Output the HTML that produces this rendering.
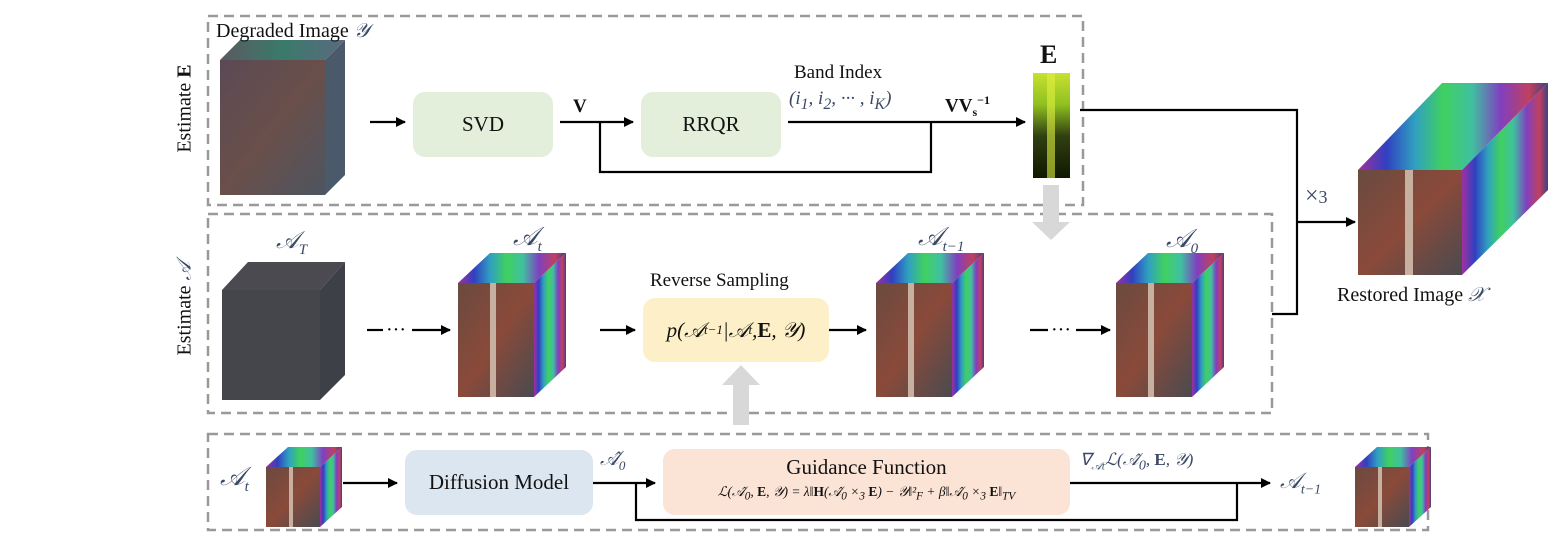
<!DOCTYPE html>
<html><head><meta charset="utf-8"><style>
body{margin:0;width:1555px;height:544px;background:#fff;position:relative;overflow:hidden;font-family:"Liberation Serif",serif;color:#111}
.a{position:absolute}
.box{position:absolute;border-radius:12px;display:flex;align-items:center;justify-content:center;font-size:21px}
.lbl{position:absolute;white-space:nowrap}
.m{font-style:italic;color:#3a4a66}
</style></head><body>
<svg class="a" style="left:0;top:0" width="1555" height="544">
<defs>
<marker id="ar" markerWidth="10" markerHeight="10" refX="9" refY="5" orient="auto" markerUnits="userSpaceOnUse"><path d="M0,0 L10,5 L0,10 z" fill="#000"/></marker>
<linearGradient id="noise" x1="0" y1="0" x2="1" y2="1"><stop offset="0" stop-color="#5a4a55"/><stop offset="0.5" stop-color="#6a4f4a"/><stop offset="1" stop-color="#4d5560"/></linearGradient>
<linearGradient id="noiseTop" x1="0" y1="0" x2="1" y2="0"><stop offset="0" stop-color="#5a5a60"/><stop offset="0.5" stop-color="#3a7a6a"/><stop offset="1" stop-color="#5a6a80"/></linearGradient>
<linearGradient id="city" x1="0" y1="0" x2="1" y2="1"><stop offset="0" stop-color="#6a4a40"/><stop offset="0.5" stop-color="#8a4a3a"/><stop offset="1" stop-color="#4a4a50"/></linearGradient>
<linearGradient id="stripe" x1="0" y1="0" x2="1" y2="0">
<stop offset="0" stop-color="#a030a0"/><stop offset="0.15" stop-color="#3040c0"/><stop offset="0.3" stop-color="#30a0c0"/><stop offset="0.45" stop-color="#40d060"/><stop offset="0.6" stop-color="#40c0a0"/><stop offset="0.75" stop-color="#8040c0"/><stop offset="0.9" stop-color="#c04060"/><stop offset="1" stop-color="#404080"/></linearGradient>
<linearGradient id="eg" x1="0" y1="0" x2="0" y2="1"><stop offset="0" stop-color="#c8e030"/><stop offset="0.3" stop-color="#90c020"/><stop offset="0.6" stop-color="#304010"/><stop offset="1" stop-color="#101800"/></linearGradient>
</defs>
<g fill="none" stroke="#999" stroke-width="2.5" stroke-dasharray="10,6">
<rect x="208" y="16" width="875" height="189"/>
<rect x="208" y="214" width="1064" height="199"/>
<rect x="208" y="434" width="1220" height="96"/>
</g>
<polygon points="220,60 240,40 345,40 325,60" fill="url(#noiseTop)"/>
<polygon points="325,60 345,40 345,175 325,195" fill="#4a5a6a"/>
<rect x="220" y="60" width="105" height="135" fill="url(#noise)"/>
<polygon points="222,290 248,262 345,262 320,290" fill="#4a4a50"/>
<polygon points="320,290 345,262 345,375 320,400" fill="#3e4048"/>
<rect x="222" y="290" width="98" height="110" fill="#45454c"/>
<g id="c1">
<polygon points="458,283 490,253 566,253 534,283" fill="url(#stripe)"/>
<polygon points="534,283 566,253 566,367 534,397" fill="url(#stripe)"/>
<rect x="458" y="283" width="76" height="114" fill="url(#city)"/>
<rect x="490" y="283" width="6" height="114" fill="#c8b0a0"/>
</g>
<use href="#c1" x="418" y="0"/>
<use href="#c1" x="658" y="0"/>
<g id="c2">
<polygon points="266,467 288,447 342,447 320,467" fill="url(#stripe)"/>
<polygon points="320,467 342,447 342,507 320,527" fill="url(#stripe)"/>
<rect x="266" y="467" width="54" height="60" fill="url(#city)"/>
<rect x="289" y="467" width="4" height="60" fill="#c8b0a0"/>
</g>
<use href="#c2" x="1089" y="0"/>
<polygon points="1358,170 1442,83 1548,83 1462,170" fill="url(#stripe)"/>
<polygon points="1462,170 1548,83 1548,190 1462,275" fill="url(#stripe)"/>
<rect x="1358" y="170" width="104" height="105" fill="url(#city)"/>
<rect x="1405" y="170" width="8" height="105" fill="#c8b0a0"/>
<rect x="1033" y="73" width="37" height="105" fill="url(#eg)"/>
<rect x="1047" y="73" width="8" height="105" fill="#e0f040" opacity="0.6"/>
<g stroke="#000" stroke-width="2.2" fill="none">
<line x1="370" y1="122" x2="405" y2="122" marker-end="url(#ar)"/>
<line x1="560" y1="122" x2="633" y2="122" marker-end="url(#ar)"/>
<polyline points="600,122 600,172 931,172 931,122"/>
<line x1="788" y1="122" x2="1025" y2="122" marker-end="url(#ar)"/>
<polyline points="1080,110 1297,110 1297,314 1272,314"/>
<line x1="1297" y1="222" x2="1355" y2="222" marker-end="url(#ar)"/>
<line x1="367" y1="330" x2="383" y2="330"/>
<line x1="412" y1="330" x2="450" y2="330" marker-end="url(#ar)"/>
<line x1="600" y1="330" x2="635" y2="330" marker-end="url(#ar)"/>
<line x1="829" y1="330" x2="866" y2="330" marker-end="url(#ar)"/>
<line x1="1030" y1="330" x2="1048" y2="330"/>
<line x1="1076" y1="330" x2="1110" y2="330" marker-end="url(#ar)"/>
<line x1="343" y1="483" x2="397" y2="483" marker-end="url(#ar)"/>
<line x1="593" y1="483" x2="655" y2="483" marker-end="url(#ar)"/>
<polyline points="636,483 636,520 1237,520 1237,483"/>
<line x1="1070" y1="483" x2="1270" y2="483" marker-end="url(#ar)"/>
</g>
<g fill="#000" font-size="20"><text x="386" y="336">···</text><text x="1051" y="336">···</text></g>
<polygon points="1043,185 1059,185 1059,222 1070,222 1051,240 1032,222 1043,222" fill="#d8d8d8"/>
<polygon points="733,425 749,425 749,385 760,385 741,365 722,385 733,385" fill="#d8d8d8"/>
</svg>
<div class="box" style="left:413px;top:92px;width:140px;height:65px;background:#e3eedb">SVD</div>
<div class="box" style="left:641px;top:92px;width:140px;height:65px;background:#e3eedb">RRQR</div>
<div class="box" style="left:643px;top:298px;width:186px;height:64px;background:#fdf0c8;font-style:italic">p(𝒜<sub style="font-size:13px">t−1</sub>|𝒜<sub style="font-size:13px">t</sub>, <b style="font-style:normal">E</b>, 𝒴)</div>
<div class="box" style="left:405px;top:450px;width:188px;height:65px;background:#dce6f0">Diffusion Model</div>
<div class="box" style="left:663px;top:449px;width:407px;height:66px;background:#fbe3d5;flex-direction:column;justify-content:flex-start;padding-top:6px;box-sizing:border-box"><div>Guidance Function</div><div style="font-size:13.5px;font-style:italic;margin-top:4px">ℒ(𝒜̂<sub>0</sub>, <b style="font-style:normal">E</b>, 𝒴) = λ‖<b style="font-style:normal">H</b>(𝒜̂<sub>0</sub> ×<sub>3</sub> <b style="font-style:normal">E</b>) − 𝒴‖²<sub>F</sub> + β‖𝒜̂<sub>0</sub> ×<sub>3</sub> <b style="font-style:normal">E</b>‖<sub>TV</sub></div></div>
<div class="lbl" style="left:216px;top:20px;font-size:20px">Degraded Image <span class="m">𝒴</span></div>
<div class="lbl" style="left:794px;top:62px;font-size:19px">Band Index</div>
<div class="lbl m" style="left:789px;top:88px;font-size:19px">(i<sub>1</sub>, i<sub>2</sub>, ··· , i<sub>K</sub>)</div>
<div class="lbl" style="left:573px;top:96px;font-size:19px;font-weight:bold">V</div>
<div class="lbl" style="left:945px;top:93px;font-size:19px;font-weight:bold">VV<sub style="font-size:12px">s</sub><sup style="font-size:12px">−1</sup></div>
<div class="lbl" style="left:1040px;top:40px;font-size:26px;font-weight:bold">E</div>
<div class="lbl" style="left:1305px;top:183px;font-size:24px;color:#3a4a66">×<span style="font-size:18px">3</span></div>
<div class="lbl" style="left:1337px;top:284px;font-size:20px">Restored Image <span class="m">𝒳</span></div>
<div class="lbl m" style="left:276px;top:228px;font-size:24px">𝒜<sub style="font-size:15px">T</sub></div>
<div class="lbl m" style="left:513px;top:222px;font-size:26px">𝒜<sub style="font-size:15px">t</sub></div>
<div class="lbl m" style="left:918px;top:222px;font-size:26px">𝒜<sub style="font-size:15px">t−1</sub></div>
<div class="lbl m" style="left:1166px;top:224px;font-size:26px">𝒜<sub style="font-size:15px">0</sub></div>
<div class="lbl" style="left:650px;top:270px;font-size:19px">Reverse Sampling</div>
<div class="lbl m" style="left:220px;top:462px;font-size:26px">𝒜<sub style="font-size:15px">t</sub></div>
<div class="lbl m" style="left:600px;top:448px;font-size:20px">𝒜̂<sub style="font-size:13px">0</sub></div>
<div class="lbl m" style="left:1080px;top:450px;font-size:17px">∇<sub style="font-size:11px">𝒜t</sub>ℒ(𝒜̂<sub>0</sub>, <b style="font-style:normal">E</b>, 𝒴)</div>
<div class="lbl m" style="left:1280px;top:468px;font-size:22px">𝒜<sub style="font-size:14px">t−1</sub></div>
<div class="lbl" style="left:125px;top:97px;font-size:20px;transform:rotate(-90deg);width:120px;text-align:center">Estimate <b>E</b></div>
<div class="lbl" style="left:125px;top:297px;font-size:20px;transform:rotate(-90deg);width:120px;text-align:center">Estimate <span class="m">𝒜</span></div>
</body></html>
